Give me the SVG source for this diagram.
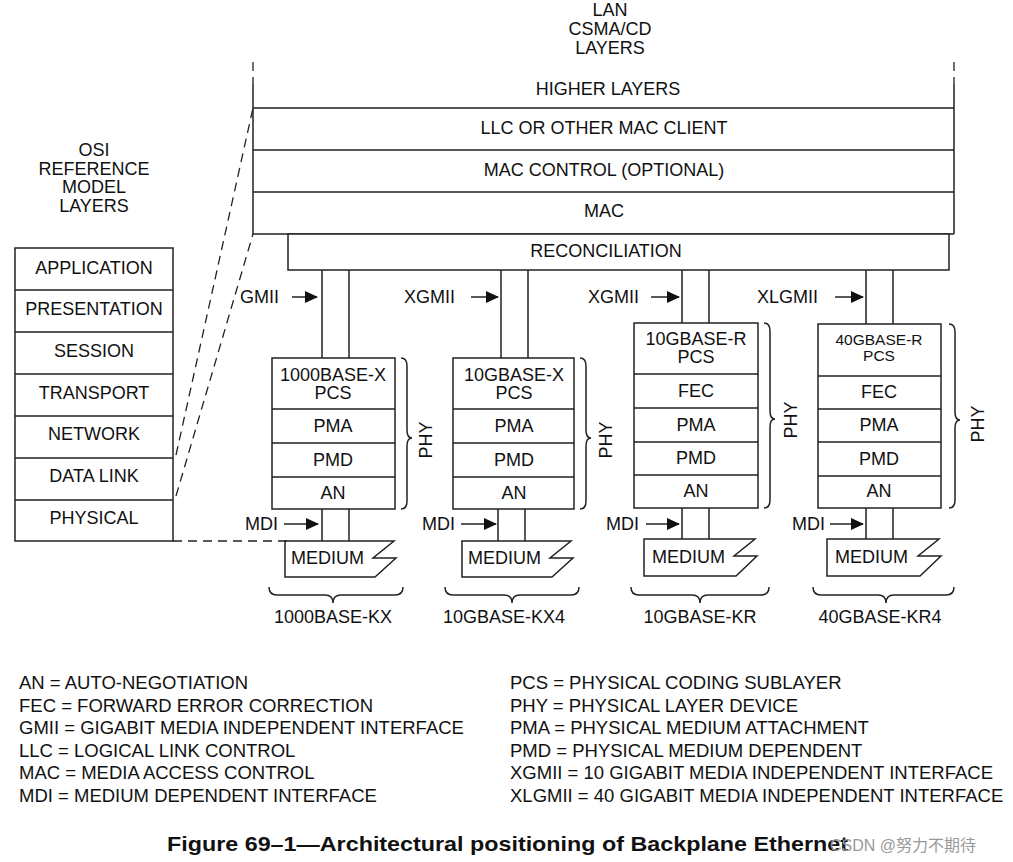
<svg xmlns="http://www.w3.org/2000/svg" width="1013" height="862" viewBox="0 0 1013 862">
<style>
text{font-family:"Liberation Sans",Arial,sans-serif;font-size:18px;fill:#111}
.c{text-anchor:middle}
.lg{font-size:18.5px}
.b{fill:#fff;stroke:#222;stroke-width:1.5}
.l{stroke:#222;stroke-width:1.5;fill:none}
.a{stroke:#222;stroke-width:1.5;fill:none;marker-end:url(#ar)}
.d{stroke:#222;stroke-width:1.3;fill:none;stroke-dasharray:9 6}
</style>
<defs><marker id="ar" markerWidth="13" markerHeight="12" refX="12" refY="6" orient="auto" markerUnits="userSpaceOnUse"><path d="M0,0 L13,6 L0,12 Z" fill="#111"/></marker></defs>
<rect width="1013" height="862" fill="#fff"/>
<g id="lan">
<text class="c" x="610" y="16">LAN</text><text class="c" x="610" y="35">CSMA/CD</text><text class="c" x="610" y="54">LAYERS</text>
<path class="d" d="M253,62 V84 M954,62 V84"/>
<path class="l" d="M253,84 V234 M954,84 V234 M253,108 H954 M253,150 H954 M253,192 H954 M253,234 H954"/>
<text class="c" x="608" y="95">HIGHER LAYERS</text>
<text class="c" x="604" y="134">LLC OR OTHER MAC CLIENT</text>
<text class="c" x="604" y="176">MAC CONTROL (OPTIONAL)</text>
<text class="c" x="604" y="217">MAC</text>
<rect class="b" x="288" y="234" width="661" height="36"/>
<text class="c" x="606" y="257">RECONCILIATION</text>
</g>
<g id="osi">
<text class="c" x="94" y="156">OSI</text><text class="c" x="94" y="175">REFERENCE</text><text class="c" x="94" y="193">MODEL</text><text class="c" x="94" y="212">LAYERS</text>
<rect class="b" x="15" y="248" width="158" height="293"/>
<path class="l" d="M15,290 H173 M15,332 H173 M15,374 H173 M15,416 H173 M15,458 H173 M15,500 H173"/>
<text class="c" x="94" y="274">APPLICATION</text>
<text class="c" x="94" y="315">PRESENTATION</text>
<text class="c" x="94" y="357">SESSION</text>
<text class="c" x="94" y="399">TRANSPORT</text>
<text class="c" x="94" y="440">NETWORK</text>
<text class="c" x="94" y="482">DATA LINK</text>
<text class="c" x="94" y="524">PHYSICAL</text>
</g>
<g id="connectors">
<path class="d" d="M176,455 L253,108 M176,496 L253,234 M173,541 H288"/>
<path class="l" d="M322,270 V358 M349,270 V358 M322,509 V541 M349,509 V541"/>
<path class="l" d="M501,270 V358 M528,270 V358 M498,509 V541 M525,509 V541"/>
<path class="l" d="M682,270 V323 M709,270 V323 M682,508 V539 M709,508 V539"/>
<path class="l" d="M866,270 V324 M893,270 V324 M866,508 V539 M893,508 V539"/>
<path class="a" d="M292,297 H317"/><path class="a" d="M471,297 H498"/><path class="a" d="M651,297 H679"/><path class="a" d="M835,297 H863"/>
<path class="a" d="M284,524 H318"/><path class="a" d="M461,524 H496"/><path class="a" d="M646,524 H679"/><path class="a" d="M830,524 H863"/>
<text x="240" y="303">GMII</text><text x="404" y="303">XGMII</text><text x="588" y="303">XGMII</text><text x="757" y="303">XLGMII</text>
<text x="245" y="530">MDI</text><text x="422" y="530">MDI</text><text x="606" y="530">MDI</text><text x="792" y="530">MDI</text>
</g>
<g id="stack1">
<rect class="b" x="272" y="358" width="123" height="151"/>
<path class="l" d="M272,409 H395 M272,443 H395 M272,477 H395"/>
<text class="c" x="333" y="381">1000BASE-X</text><text class="c" x="333" y="399">PCS</text>
<text class="c" x="333" y="432">PMA</text><text class="c" x="333" y="466">PMD</text><text class="c" x="333" y="499">AN</text>
<path class="l" d="M401,358 q6,0 6,8 v64 q0,8 5,8 q-5,0 -5,8 v55 q0,8 -6,8"/>
<text class="c" transform="translate(432,440) rotate(-90)">PHY</text>
<path class="l" d="M285,541 H394 L373,558 H396 L375,577 H285 Z"/>
<text x="291" y="564">MEDIUM</text>
<path class="l" d="M269,587 q0,8 8,8 h48 q8,0 8,8 q0,-8 8,-8 h54 q8,0 8,-8"/>
<text class="c" x="333" y="623">1000BASE-KX</text>
</g>
<g id="stack2">
<rect class="b" x="453" y="358" width="121" height="151"/>
<path class="l" d="M453,409 H574 M453,443 H574 M453,477 H574"/>
<text class="c" x="514" y="381">10GBASE-X</text><text class="c" x="514" y="399">PCS</text>
<text class="c" x="514" y="432">PMA</text><text class="c" x="514" y="466">PMD</text><text class="c" x="514" y="499">AN</text>
<path class="l" d="M580,358 q6,0 6,8 v64 q0,8 5,8 q-5,0 -5,8 v55 q0,8 -6,8"/>
<text class="c" transform="translate(612,440) rotate(-90)">PHY</text>
<path class="l" d="M462,541 H571 L550,558 H573 L552,577 H462 Z"/>
<text x="468" y="564">MEDIUM</text>
<path class="l" d="M445,587 q0,8 8,8 h51 q8,0 8,8 q0,-8 8,-8 h51 q8,0 8,-8"/>
<text class="c" x="504" y="623">10GBASE-KX4</text>
</g>
<g id="stack3">
<rect class="b" x="634" y="323" width="124" height="185"/>
<path class="l" d="M634,374 H758 M634,408 H758 M634,442 H758 M634,475 H758"/>
<text class="c" x="696" y="345">10GBASE-R</text><text class="c" x="696" y="363">PCS</text>
<text class="c" x="696" y="397">FEC</text><text class="c" x="696" y="431">PMA</text><text class="c" x="696" y="464">PMD</text><text class="c" x="696" y="497">AN</text>
<path class="l" d="M764,323 q6,0 6,8 v80 q0,8 5,8 q-5,0 -5,8 v73 q0,8 -6,8"/>
<text class="c" transform="translate(797,420) rotate(-90)">PHY</text>
<path class="l" d="M644,539 H755 L734,556 H757 L736,576 H644 Z"/>
<text x="652" y="563">MEDIUM</text>
<path class="l" d="M631,587 q0,8 8,8 h53 q8,0 8,8 q0,-8 8,-8 h53 q8,0 8,-8"/>
<text class="c" x="700" y="623">10GBASE-KR</text>
</g>
<g id="stack4">
<rect class="b" x="818" y="324" width="123" height="184"/>
<path class="l" d="M818,376 H941 M818,409 H941 M818,442 H941 M818,476 H941"/>
<text class="c" x="879" y="345" style="font-size:15.5px">40GBASE-R</text><text class="c" x="879" y="361" style="font-size:15.5px">PCS</text>
<text class="c" x="879" y="398">FEC</text><text class="c" x="879" y="431">PMA</text><text class="c" x="879" y="465">PMD</text><text class="c" x="879" y="497">AN</text>
<path class="l" d="M949,324 q6,0 6,8 v80 q0,8 5,8 q-5,0 -5,8 v72 q0,8 -6,8"/>
<text class="c" transform="translate(984,424) rotate(-90)">PHY</text>
<path class="l" d="M827,539 H939 L918,556 H941 L920,576 H827 Z"/>
<text x="835" y="563">MEDIUM</text>
<path class="l" d="M813,587 q0,8 8,8 h57 q8,0 8,8 q0,-8 8,-8 h52 q8,0 8,-8"/>
<text class="c" x="880" y="623">40GBASE-KR4</text>
</g>
<g id="legend">
<text class="lg" x="19" y="689">AN = AUTO-NEGOTIATION</text>
<text class="lg" x="19" y="712">FEC = FORWARD ERROR CORRECTION</text>
<text class="lg" x="19" y="734">GMII = GIGABIT MEDIA INDEPENDENT INTERFACE</text>
<text class="lg" x="19" y="757">LLC = LOGICAL LINK CONTROL</text>
<text class="lg" x="19" y="779">MAC = MEDIA ACCESS CONTROL</text>
<text class="lg" x="19" y="802">MDI = MEDIUM DEPENDENT INTERFACE</text>
<text class="lg" x="510" y="689">PCS = PHYSICAL CODING SUBLAYER</text>
<text class="lg" x="510" y="712">PHY = PHYSICAL LAYER DEVICE</text>
<text class="lg" x="510" y="734">PMA = PHYSICAL MEDIUM ATTACHMENT</text>
<text class="lg" x="510" y="757">PMD = PHYSICAL MEDIUM DEPENDENT</text>
<text class="lg" x="510" y="779">XGMII = 10 GIGABIT MEDIA INDEPENDENT INTERFACE</text>
<text class="lg" x="510" y="802">XLGMII = 40 GIGABIT MEDIA INDEPENDENT INTERFACE</text>
</g>
<text x="167" y="851" textLength="681" lengthAdjust="spacingAndGlyphs" style="font-size:21px;font-weight:bold">Figure 69–1—Architectural positioning of Backplane Ethernet</text>
<text x="830" y="851" style="font-family:'Liberation Sans','Noto Sans CJK SC',sans-serif;font-size:16px;fill:#999">CSDN @努力不期待</text>
</svg>
